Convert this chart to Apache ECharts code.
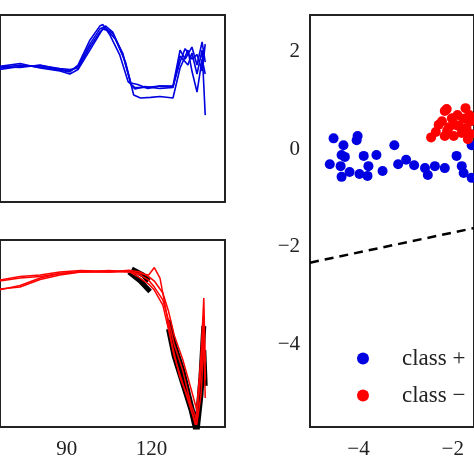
<!DOCTYPE html>
<html><head><meta charset="utf-8">
<script src="https://cdn.jsdelivr.net/npm/echarts@6/dist/echarts.min.js"></script>
<style>html,body{margin:0;background:#fff}#c{width:474px;height:474px}</style>
</head><body><div id="c"></div>
<script>
// top-left panel: class + series (time index, amplitude)
const topCurves = [
  [[60,1.45],[66,1.4],[73.5,1.5],[80.6,1.43],[87.6,1.33],[91.1,1.27],[94,1.5],[98.2,2.33],[101.7,2.8],[102.8,2.85],[105.3,2.5],[108.8,1.83],[111.7,0.95],[114.1,0.75],[117.7,0.75],[123,0.8],[127.6,0.8],[130.1,2.0],[131.9,1.7],[134.3,2.1],[136.1,1.5],[137.9,2.27],[139,1.6]],
  [[60,1.35],[66,1.35],[73.5,1.45],[80.6,1.48],[87.6,1.38],[91.1,1.35],[94,1.4],[98.2,2.1],[101.7,2.6],[103.5,2.75],[106.3,2.55],[109.8,1.9],[112.7,0.85],[114.1,0.7],[117.7,0.78],[123,0.72],[127.6,0.75],[130.1,1.8],[132.9,1.5],[134.3,1.9],[136.1,1.2],[137.9,2.0],[139,-0.17]],
  [[60,1.4],[66,1.45],[73.5,1.55],[80.6,1.4],[87.6,1.3],[91.1,1.2],[94,1.35],[98.2,2.0],[102.7,2.7],[104.5,2.65],[107.3,2.35],[110.8,1.6],[113.7,0.5],[116.1,0.4],[119.7,0.42],[123,0.45],[127.6,0.4],[130.1,1.4],[132.9,2.0],[134.3,1.3],[136.1,0.6],[137.9,1.7],[139,1.2]],
  [[60,1.5],[66,1.45],[73.5,1.42],[80.6,1.5],[87.6,1.35],[91.1,1.3],[94,1.45],[98.2,2.2],[101.7,2.7],[103.8,2.8],[106.3,2.6],[109.8,1.85],[112.7,0.9],[115.1,0.85],[118.7,0.72],[123,0.8],[127.6,0.78],[130.1,1.6],[131.9,2.05],[134.3,1.7],[136.1,1.85],[137.9,1.3],[139,2.2]]
];
// bottom-left panel: class - series
const bottomCurves = [
  [[60,2.3],[66,2.33],[73.5,2.45],[80.6,2.5],[87.6,2.6],[95,2.65],[105,2.62],[112,2.63],[116,2.5],[119,2.33],[121,2.1],[124,1.67],[126,1.0],[128,0.2],[131,-0.67],[134,-1.83],[136,-2.33],[137.5,-0.5],[138.5,1.1],[139,-1.0]],
  [[60,2.0],[66,2.03],[73.5,2.1],[80.6,2.35],[87.6,2.5],[95,2.6],[105,2.6],[112,2.66],[116,2.6],[119,2.45],[121,2.3],[124,1.9],[126,1.3],[128,0.5],[131,-0.3],[134,-1.3],[136,-2.0],[137.5,-0.2],[138.5,1.73],[139,-0.4]],
  [[60,2.35],[66,2.3],[73.5,2.4],[80.6,2.45],[87.6,2.55],[95,2.6],[105,2.65],[112,2.6],[116,2.55],[119,2.5],[121,2.75],[123,2.4],[125,1.4],[127,0.3],[130,-0.9],[133,-1.6],[135.5,-2.5],[137,-1.2],[138.5,0.6],[139,-1.6]],
  [[60,2.05],[66,2.0],[73.5,2.15],[80.6,2.4],[87.6,2.55],[95,2.62],[105,2.6],[112,2.62],[116,2.4],[119,2.2],[121,2.0],[124,1.5],[126,0.7],[128,-0.2],[131,-1.1],[134,-2.0],[136,-2.5],[137.5,-1.5],[138.5,0.2],[139,-0.9]]
];
// highlighted (shapelet) segments
const blackSegs = [
  [[112,2.6],[114,2.45],[116,2.3],[118,2.1],[119.5,1.95]],
  [[113,2.7],[115,2.6],[117,2.5],[119,2.3]],
  [[126,0.7],[128,-0.2],[131,-1.1],[134,-2.0],[136,-2.8],[137.5,-1.5],[138.5,0.0],[139,-1.2]],
  [[126,1.0],[128,0.2],[131,-0.67],[134,-1.83],[136,-2.6],[137.5,-0.9],[138.5,0.8]]
];
// right panel scatter
const classPlus = [[-4.53,0.22],[-4.32,0.08],[-4.02,0.27],[-4.04,0.18],[-3.24,0.08],[-4.61,-0.31],[-4.36,-0.12],[-4.29,-0.16],[-4.38,-0.35],[-4.36,-0.57],[-4.19,-0.47],[-3.98,-0.51],[-3.81,-0.55],[-3.89,-0.14],[-3.79,-0.35],[-3.62,-0.12],[-3.49,-0.45],[-3.16,-0.31],[-2.99,-0.22],[-2.82,-0.33],[-2.59,-0.39],[-2.53,-0.53],[-2.38,-0.35],[-2.17,-0.39],[-1.92,-0.14],[-1.81,-0.35],[-1.77,-0.49],[-1.6,-0.59],[-1.6,0.08]];
const classMinus = [[-2.46,0.24],[-2.36,0.35],[-2.17,0.27],[-2.17,0.78],[-2.13,0.82],[-2.23,0.57],[-2.02,0.63],[-1.98,0.27],[-1.73,0.84],[-1.87,0.47],[-1.81,0.33],[-1.71,0.43],[-1.62,0.57],[-1.62,0.31],[-1.9,0.7],[-1.95,0.5],[-1.65,0.7],[-2.08,0.45],[-1.78,0.62],[-2.3,0.5],[-2.12,0.38],[-1.68,0.2]];
const boundary = [[-5.03,-2.33],[-1.55,-1.62]];
const leftTicks = [90, 120];
const rightXTicks = [-4, -2];
const rightYTicks = [2, 0, -2, -4];

const font = 'Liberation Serif';
const lbl = {color: '#222', fontFamily: font, fontSize: 21};
const border = {show: true, borderColor: '#222', borderWidth: 2};
const minus = v => String(v).replace('-', '\u2212');
function lineSeries(d, color, w, idx) {
  return {type: 'line', data: d, xAxisIndex: idx, yAxisIndex: idx, symbol: 'none',
    lineStyle: {color: color, width: w}, silent: true, z: w > 3 ? 2 : 3};
}
const series = [];
topCurves.forEach(d => series.push(lineSeries(d, '#0000e0', 1.6, 0)));
blackSegs.forEach(d => series.push(lineSeries(d, '#000', 5, 1)));
bottomCurves.forEach(d => series.push(lineSeries(d, '#ff0000', 1.5, 1)));
series.push({name: 'class +', type: 'scatter', data: classPlus, xAxisIndex: 2, yAxisIndex: 2, symbolSize: 10, itemStyle: {color: '#0000e0', opacity: 1}});
series.push({name: 'class \u2212', type: 'scatter', data: classMinus, xAxisIndex: 2, yAxisIndex: 2, symbolSize: 10, itemStyle: {color: '#ff0000', opacity: 1}});
series.push({type: 'line', data: boundary, xAxisIndex: 2, yAxisIndex: 2, symbol: 'none', lineStyle: {color: '#000', width: 2.5, type: [9, 6]}});

const chart = echarts.init(document.getElementById('c'));
chart.setOption({
  animation: false,
  grid: [
    Object.assign({left: 0, right: 249, top: 15, bottom: 272}, border),
    Object.assign({left: 0, right: 249, top: 240, bottom: 47}, border),
    Object.assign({left: 310, right: 0, top: 15, bottom: 47}, border)
  ],
  xAxis: [
    {type: 'value', gridIndex: 0, min: 66.4, max: 146, axisLine: {show: false}, axisTick: {show: false}, axisLabel: {show: false}, splitLine: {show: false}},
    {type: 'value', gridIndex: 1, min: 66.4, max: 146, axisLine: {show: false}, axisTick: {show: false}, splitLine: {show: false}, axisLabel: Object.assign({customValues: leftTicks, margin: 12}, lbl)},
    {type: 'value', gridIndex: 2, min: -5.03, max: -1.55, axisLine: {show: false}, axisTick: {show: false}, splitLine: {show: false}, axisLabel: Object.assign({customValues: rightXTicks, margin: 12, formatter: minus}, lbl)}
  ],
  yAxis: [
    {type: 'value', gridIndex: 0, min: -3.07, max: 3.17, axisLine: {show: false}, axisTick: {show: false}, axisLabel: {show: false}, splitLine: {show: false}},
    {type: 'value', gridIndex: 1, min: -2.57, max: 3.67, axisLine: {show: false}, axisTick: {show: false}, axisLabel: {show: false}, splitLine: {show: false}},
    {type: 'value', gridIndex: 2, min: -5.7, max: 2.75, axisLine: {show: false}, axisTick: {show: false}, splitLine: {show: false}, axisLabel: Object.assign({customValues: rightYTicks, margin: 10, formatter: minus}, lbl)}
  ],
  legend: {
    orient: 'vertical', left: 352, top: 342, itemGap: 14, icon: 'circle', itemWidth: 12, itemHeight: 12,
    data: ['class +', 'class \u2212'],
    textStyle: {color: '#222', fontFamily: font, fontSize: 23, padding: [0, 0, 0, 28]}
  },
  series: series
});
</script>
</body></html>
